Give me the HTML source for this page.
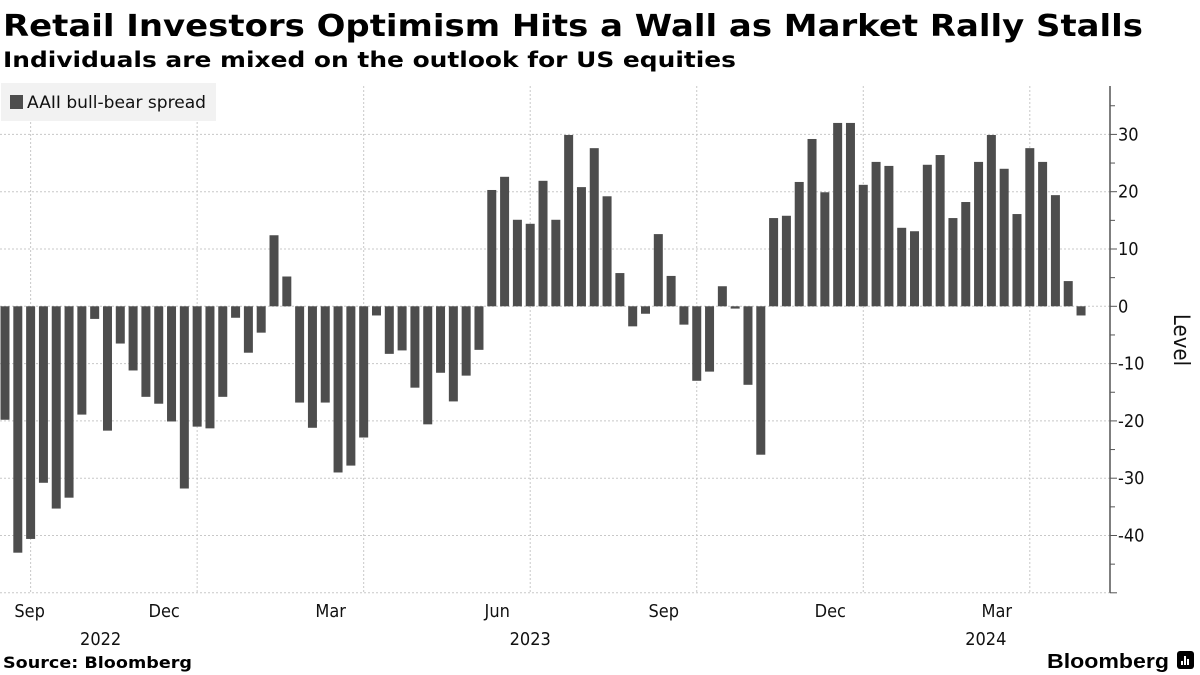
<!DOCTYPE html>
<html><head><meta charset="utf-8"><style>
html,body{margin:0;padding:0;background:#fff;}
svg{display:block;font-family:"DejaVu Sans","Liberation Sans",sans-serif;}
.cond{font-family:"DejaVu Sans Condensed","DejaVu Sans","Liberation Sans",sans-serif;}
</style></head><body>
<svg id="chart" width="1200" height="675" viewBox="0 0 1200 675" xmlns="http://www.w3.org/2000/svg">
<text x="3" y="36" font-size="30" font-weight="bold" fill="#000" textLength="1140" lengthAdjust="spacingAndGlyphs">Retail Investors Optimism Hits a Wall as Market Rally Stalls</text>
<text x="3" y="67" font-size="21" font-weight="bold" fill="#000" textLength="733" lengthAdjust="spacingAndGlyphs">Individuals are mixed on the outlook for US equities</text>
<g id="grid"></g>
<g id="bars"></g>
<g id="axis" class="cond"></g>
<g id="xaxis" class="cond"></g>
<g>
<rect x="1" y="83" width="215" height="38" fill="#f2f2f2"/>
<rect x="10" y="95" width="13" height="14" fill="#4d4d4d"/>
<text class="cond" x="27" y="108" font-size="17" fill="#111" textLength="179" lengthAdjust="spacingAndGlyphs">AAII bull-bear spread</text>
</g>
<text class="cond" transform="translate(1174,340) rotate(90)" font-size="22" fill="#111" text-anchor="middle">Level</text>
<text x="3" y="668" font-size="16" font-weight="bold" fill="#000" textLength="189" lengthAdjust="spacingAndGlyphs">Source: Bloomberg</text>
<text x="1047" y="668" font-size="20" font-weight="bold" fill="#000" font-family="Liberation Sans, sans-serif" textLength="122" lengthAdjust="spacingAndGlyphs">Bloomberg</text>
<g>
<rect x="1177" y="651" width="17" height="18" rx="3" fill="#000"/>
<rect x="1181" y="661" width="2" height="4" fill="#fff"/><rect x="1184" y="656" width="2" height="9" fill="#fff"/><rect x="1187" y="659" width="2" height="6" fill="#fff"/>
</g>
</svg>
<script>
const values = [-19.8,-43.0,-40.6,-30.8,-35.3,-33.4,-18.9,-2.2,-21.7,-6.5,-11.2,-15.8,-17.0,-20.1,-31.8,-21.0,-21.3,-15.8,-2.0,-8.1,-4.6,12.4,5.2,-16.8,-21.2,-16.8,-29.0,-27.8,-22.9,-1.6,-8.3,-7.7,-14.2,-20.6,-11.6,-16.6,-12.1,-7.6,20.3,22.6,15.1,14.4,21.9,15.1,29.9,20.8,27.6,19.2,5.8,-3.5,-1.3,12.6,5.3,-3.2,-13.0,-11.4,3.5,-0.4,-13.7,-25.9,15.4,15.8,21.7,29.2,19.9,32.0,32.0,21.2,25.2,24.5,13.7,13.1,24.7,26.4,15.4,18.2,25.2,29.9,24.0,16.1,27.6,25.2,19.4,4.4,-1.6];
const monthTickIdx = [2,15,28,41,54,67,80];
const monthLabels = ["Sep","Dec","Mar","Jun","Sep","Dec","Mar"];
const yearLabels = ["2022","2023","2024"];
const yTicks = [30,20,10,0,-10,-20,-30,-40];
const NS="http://www.w3.org/2000/svg";
const x = i => 5 + 12.81*i;
const y = v => 306.3 - 5.73*v;
const plotL = 0, plotR = 1110, plotT = 86, plotB = y(-50);
function mk(tag, attrs, parent){const e=document.createElementNS(NS,tag);for(const k in attrs)e.setAttribute(k,attrs[k]);parent.appendChild(e);return e;}
const grid=document.getElementById('grid'), bars=document.getElementById('bars'), axis=document.getElementById('axis'), xaxis=document.getElementById('xaxis');
for(let v=30; v>=-50; v-=10){
  const l=mk('line',{x1:plotL,x2:plotR,y1:y(v),y2:y(v),stroke:'#c8c8c8','stroke-width':1,'stroke-dasharray':'2,2'},grid);
  
  
}
monthTickIdx.forEach(i=>{
  const l=mk('line',{x1:x(i),x2:x(i),y1:plotT,y2:plotB,stroke:'#c8c8c8','stroke-width':1,'stroke-dasharray':'2,2'},grid);
  
  
});
values.forEach((v,i)=>{
  const top=Math.min(y(v),y(0)), h=Math.abs(y(v)-y(0));
  const r=mk('rect',{x:x(i)-4.5,y:top,width:9,height:Math.max(h,0.5),fill:'#4d4d4d'},bars);
  
  
});
const al=mk('line',{x1:plotR,x2:plotR,y1:plotT,y2:plotB,stroke:'#555','stroke-width':1.5},axis);


for(let v=35; v>=-50; v-=5){
  const t=mk('line',{x1:plotR,x2:plotR+(v%10===0?7:5),y1:y(v),y2:y(v),stroke:'#555','stroke-width':1},axis);
  
  
}
yTicks.forEach(v=>{
  const t=mk('text',{x:1118,y:y(v)+6,'font-size':18,fill:'#111'},axis);
  t.textContent = v<0 ? '-'+Math.abs(v) : String(v);
  
  
});
monthTickIdx.forEach((i,k)=>{
  const cx = k===0 ? x(i)-1 : x(i)-33;
  const t=mk('text',{x:cx,y:617,'font-size':18,fill:'#111','text-anchor':'middle'},xaxis);
  t.textContent=monthLabels[k];
  
  
});
const yearX=[x(monthTickIdx[0])+70, x(monthTickIdx[3]), x(monthTickIdx[6])-44];
yearLabels.forEach((s,k)=>{
  const t=mk('text',{x:yearX[k],y:645,'font-size':18,fill:'#111','text-anchor':'middle'},xaxis);
  t.textContent=s;
  
  
});
</script>
</body></html>
